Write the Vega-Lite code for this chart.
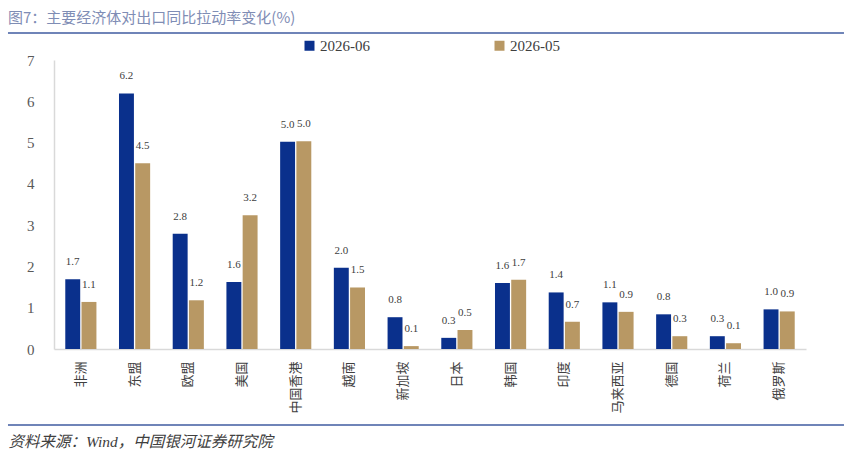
{
  "$schema": "https://vega.github.io/schema/vega-lite/v6.json",
  "autosize": {"type": "none"},
  "width": 752,
  "height": 289,
  "padding": {"left": 54, "top": 60, "right": 48, "bottom": 121},
  "background": "white",
  "title": {
    "text": "图7：主要经济体对出口同比拉动率变化(%)",
    "anchor": "start",
    "frame": "group",
    "dx": -46,
    "offset": 6,
    "font": "Noto Sans CJK SC",
    "fontSize": 15,
    "fontWeight": "normal",
    "color": "#7f8db5"
  },
  "layer": [
    {
      "data": {
        "values": [
          {"region": "非洲", "month": "2026-06", "value": 1.69},
          {"region": "非洲", "month": "2026-05", "value": 1.14},
          {"region": "东盟", "month": "2026-06", "value": 6.19},
          {"region": "东盟", "month": "2026-05", "value": 4.5},
          {"region": "欧盟", "month": "2026-06", "value": 2.79},
          {"region": "欧盟", "month": "2026-05", "value": 1.18},
          {"region": "美国", "month": "2026-06", "value": 1.62},
          {"region": "美国", "month": "2026-05", "value": 3.24},
          {"region": "中国香港", "month": "2026-06", "value": 5.02},
          {"region": "中国香港", "month": "2026-05", "value": 5.03},
          {"region": "越南", "month": "2026-06", "value": 1.97},
          {"region": "越南", "month": "2026-05", "value": 1.49},
          {"region": "新加坡", "month": "2026-06", "value": 0.77},
          {"region": "新加坡", "month": "2026-05", "value": 0.07},
          {"region": "日本", "month": "2026-06", "value": 0.27},
          {"region": "日本", "month": "2026-05", "value": 0.46},
          {"region": "韩国", "month": "2026-06", "value": 1.6},
          {"region": "韩国", "month": "2026-05", "value": 1.68},
          {"region": "印度", "month": "2026-06", "value": 1.37},
          {"region": "印度", "month": "2026-05", "value": 0.66},
          {"region": "马来西亚", "month": "2026-06", "value": 1.13},
          {"region": "马来西亚", "month": "2026-05", "value": 0.9},
          {"region": "德国", "month": "2026-06", "value": 0.84},
          {"region": "德国", "month": "2026-05", "value": 0.31},
          {"region": "荷兰", "month": "2026-06", "value": 0.31},
          {"region": "荷兰", "month": "2026-05", "value": 0.14},
          {"region": "俄罗斯", "month": "2026-06", "value": 0.96},
          {"region": "俄罗斯", "month": "2026-05", "value": 0.91}
        ]
      },
      "encoding": {
        "x": {
          "field": "region",
          "type": "nominal",
          "sort": null,
          "scale": {"paddingInner": 0.42, "paddingOuter": 0.21},
          "axis": {
            "title": "资料来源：Wind，中国银河证券研究院",
            "titleX": -46,
            "titleY": 92,
            "titleAlign": "left",
            "titleBaseline": "middle",
            "titleFont": "Liberation Serif, Noto Sans CJK SC",
            "titleFontSize": 15.5,
            "titleFontStyle": "italic",
            "titleFontWeight": "normal",
            "titleColor": "#404040",
            "labelAngle": -90,
            "labelFont": "Noto Sans CJK SC",
            "labelFontSize": 13,
            "labelColor": "#404040",
            "labelPadding": 12,
            "ticks": false,
            "domainColor": "#d9d9d9",
            "domainWidth": 1.5
          }
        },
        "xOffset": {
          "field": "month",
          "type": "nominal",
          "sort": ["2026-06", "2026-05"],
          "scale": {"paddingInner": 0.08, "paddingOuter": 0}
        },
        "y": {
          "field": "value",
          "type": "quantitative",
          "scale": {"domain": [0, 7], "nice": false},
          "axis": {
            "title": null,
            "values": [0, 1, 2, 3, 4, 5, 6, 7],
            "grid": false,
            "ticks": false,
            "labelFont": "Liberation Serif",
            "labelFontSize": 15,
            "labelColor": "#595959",
            "labelPadding": 20,
            "domainColor": "#d9d9d9",
            "domainWidth": 1.5
          }
        }
      },
      "layer": [
        {
          "mark": {"type": "bar"},
          "encoding": {
            "color": {
              "field": "month",
              "type": "nominal",
              "scale": {"domain": ["2026-06", "2026-05"], "range": ["#0a308c", "#b89864"]},
              "legend": {
                "title": null,
                "orient": "none",
                "direction": "horizontal",
                "legendX": 248,
                "legendY": -22,
                "padding": 0,
                "symbolType": "square",
                "symbolSize": 100,
                "symbolStrokeWidth": 0,
                "symbolOpacity": 1,
                "labelFont": "Liberation Serif",
                "labelFontSize": 15,
                "labelColor": "#404040",
                "labelOffset": 3,
                "columnPadding": 122
              }
            }
          }
        },
        {
          "mark": {
            "type": "text",
            "baseline": "middle",
            "dy": -17,
            "font": "Liberation Serif",
            "fontSize": 11,
            "color": "#404040"
          },
          "encoding": {
            "text": {"field": "value", "format": ".1f"}
          }
        }
      ]
    },
    {
      "data": {"values": [{}]},
      "mark": {"type": "rule", "color": "#6f84b8", "strokeWidth": 2.2},
      "encoding": {
        "x": {"datum": -0.0612, "type": "quantitative", "scale": {"domain": [0, 1], "nice": false, "zero": false}, "axis": null},
        "x2": {"datum": 1.0505},
        "y": {"datum": 7.654}
      }
    },
    {
      "data": {"values": [{}]},
      "mark": {"type": "rule", "color": "#6f84b8", "strokeWidth": 2.2},
      "encoding": {
        "x": {"datum": -0.0612, "type": "quantitative", "scale": {"domain": [0, 1], "nice": false, "zero": false}, "axis": null},
        "x2": {"datum": 1.0505},
        "y": {"datum": -1.841}
      }
    }
  ],
  "resolve": {"scale": {"x": "independent"}},
  "config": {
    "view": {"stroke": null}
  }
}
